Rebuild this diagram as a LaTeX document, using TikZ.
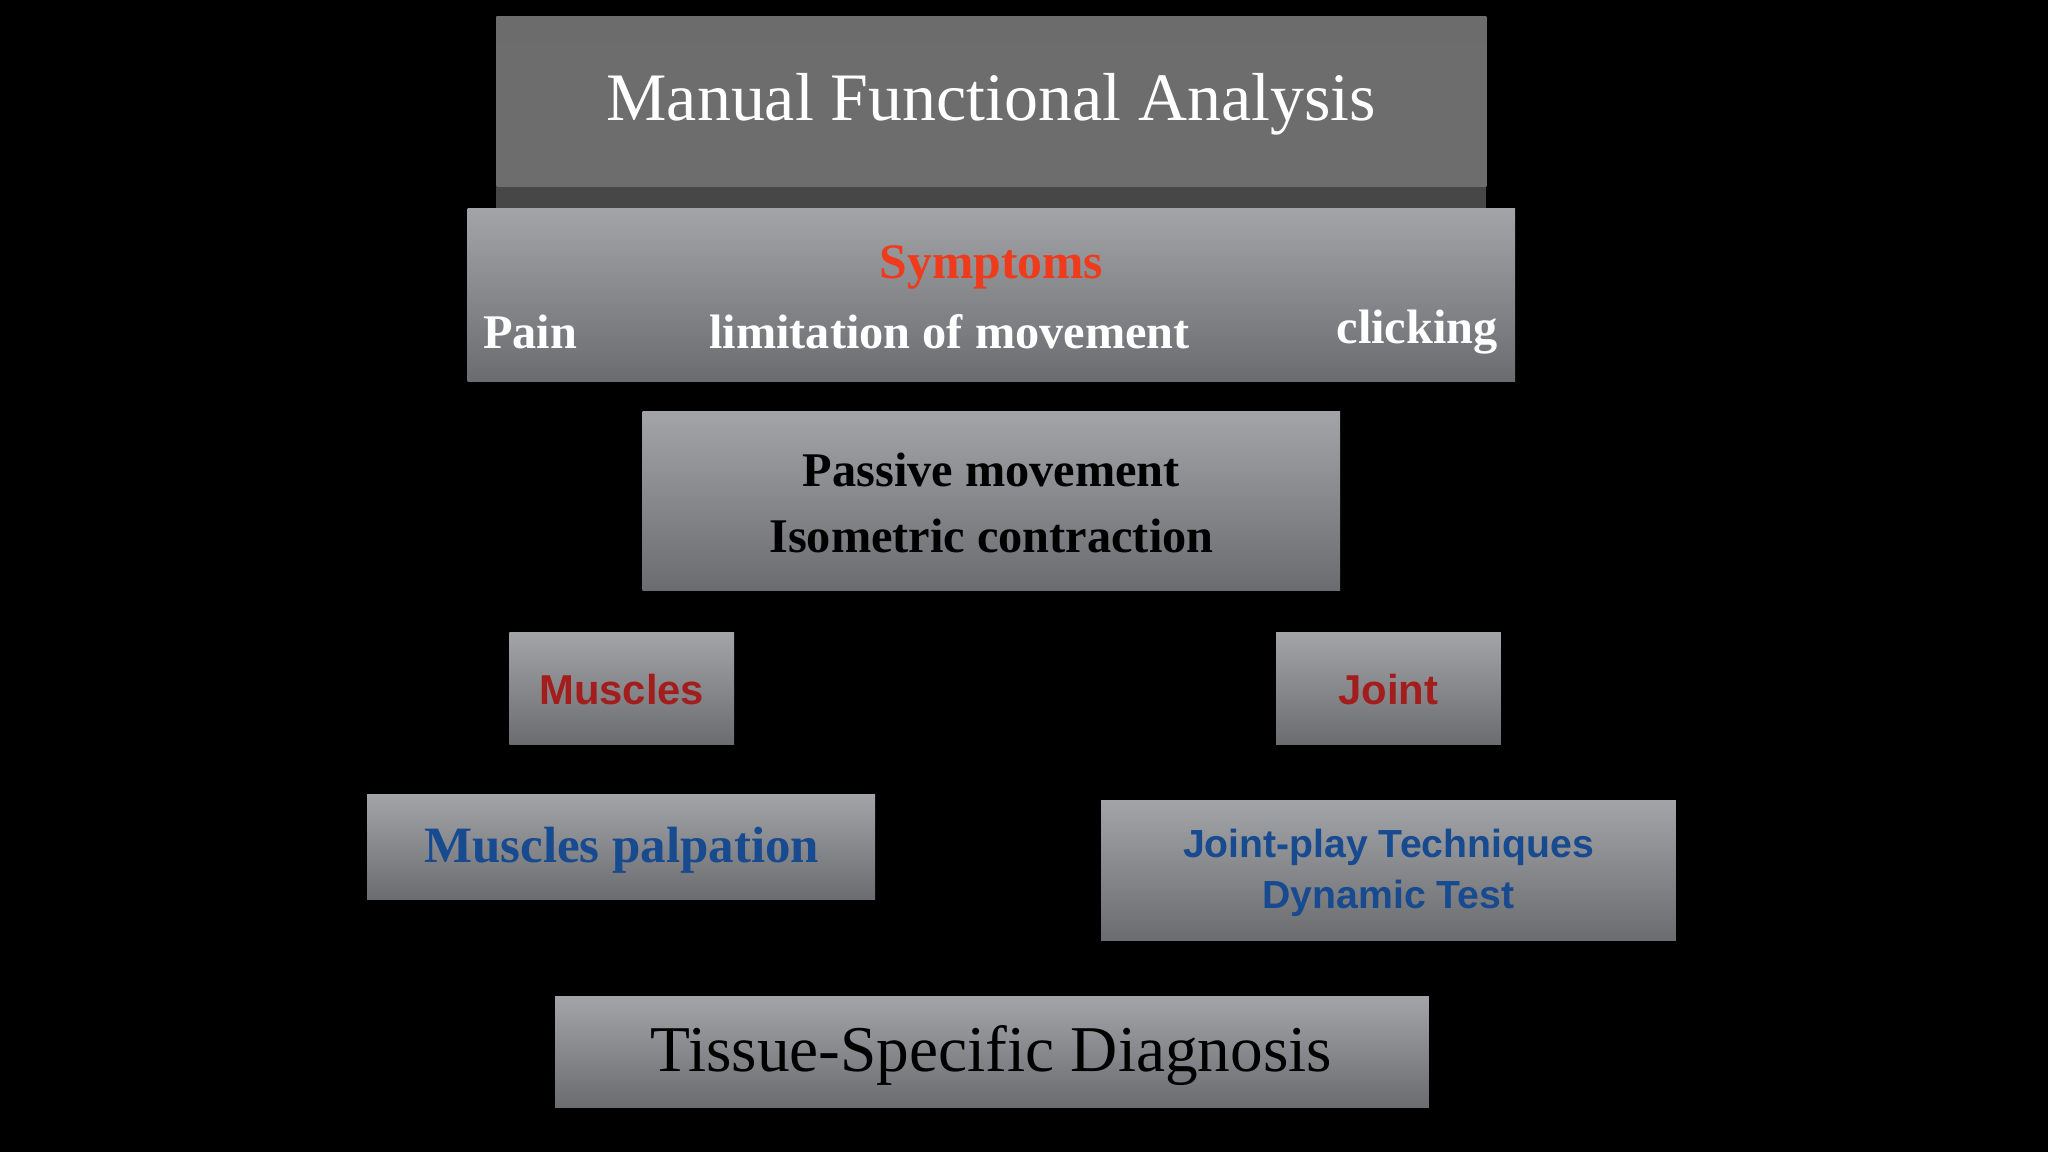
\documentclass[tikz,border=0pt]{standalone}
\usepackage{fontspec}
\setmainfont{Liberation Serif}
\setsansfont{Liberation Sans}
\begin{document}
\begin{tikzpicture}[x=0.5pt,y=-0.5pt,
  box/.style={draw=none,top color=gray1,bottom color=gray2},
  lbl/.style={inner sep=0pt,anchor=center}]
\definecolor{gray1}{HTML}{A2A4A7}
\definecolor{gray2}{HTML}{6A6C70}
\definecolor{dred}{HTML}{A31D1D}
\definecolor{dblue}{HTML}{174A8E}
\definecolor{sred}{HTML}{F03A1C}
\fill[black] (0,0) rectangle (1568,882);
\useasboundingbox (0,0) rectangle (1568,882);
% title
\shade[top color=black!65!white!50!gray,bottom color=black!68!white!40!gray] (380,13) rectangle (1138,143);
\fill[black!72!white] (380,143) rectangle (1138,160);
\node[lbl,text=white,font=\fontsize{26}{30}\selectfont] (title) at (759,80) {Manual Functional Analysis};
% symptoms
\shade[box] (358,160) rectangle (1160,292);
\node[lbl,text=sred,font=\fontsize{19}{22}\selectfont\bfseries] (sym) at (759,205) {Symptoms};
\node[lbl,text=white,font=\fontsize{18.5}{22}\selectfont\bfseries] (pain) at (406,254) {Pain};
\node[lbl,text=white,font=\fontsize{18.5}{22}\selectfont\bfseries] (lim) at (727,254) {limitation of movement};
\node[lbl,text=white,font=\fontsize{18.5}{22}\selectfont\bfseries] (click) at (1085,254) {clicking};
% passive
\shade[box] (492,315) rectangle (1026,452);
\node[lbl,align=center,text=black,font=\fontsize{18.5}{25}\selectfont\bfseries] (pass) at (759,385) {Passive movement\\Isometric contraction};
% muscles / joint
\shade[box] (390,484) rectangle (562,570);
\node[lbl,text=dred,font=\sffamily\bfseries\fontsize{16}{19}\selectfont] (mus) at (476,528) {Muscles};
\shade[box] (977,484) rectangle (1149,570);
\node[lbl,text=dred,font=\sffamily\bfseries\fontsize{16}{19}\selectfont] (joint) at (1063,528) {Joint};
% palpation
\shade[box] (281,608) rectangle (670,689);
\node[lbl,text=dblue,font=\fontsize{19.5}{22}\selectfont\bfseries] (palp) at (476,651) {Muscles palpation};
\shade[box] (843,613) rectangle (1283,720);
\node[lbl,align=center,text=dblue,font=\sffamily\bfseries\fontsize{15}{19.5}\selectfont] (jp) at (1063,668) {Joint-play Techniques\\Dynamic Test};
% tissue
\shade[box] (425,763) rectangle (1094,848);
\node[lbl,text=black,font=\fontsize{25}{30}\selectfont] (tis) at (759,808) {Tissue-Specific Diagnosis};
\end{tikzpicture}
\end{document}
